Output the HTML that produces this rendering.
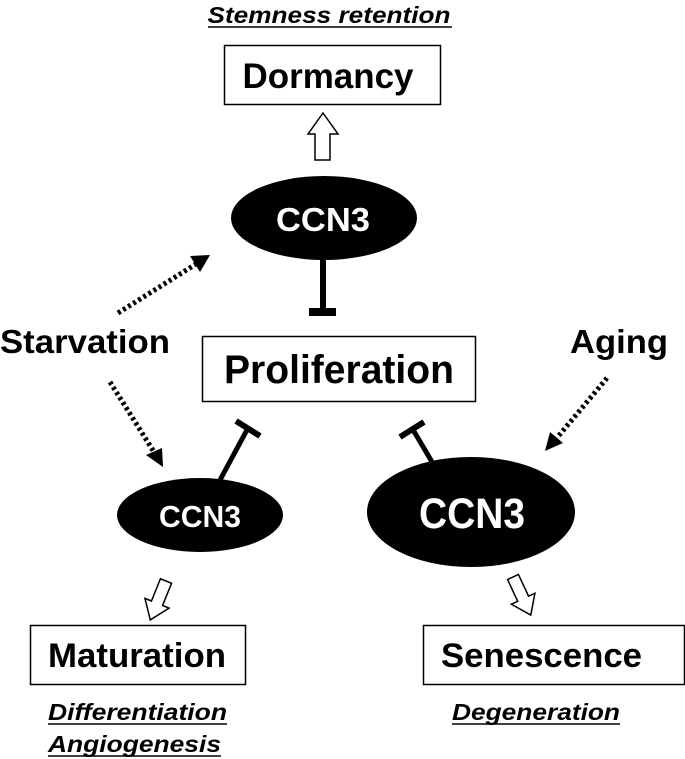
<!DOCTYPE html>
<html><head><style>body{margin:0;background:#fff}svg{display:block}</style></head><body>
<svg width="685" height="759" viewBox="0 0 685 759" xmlns="http://www.w3.org/2000/svg" font-family="Liberation Sans, Arial, sans-serif" font-weight="bold">
<!-- Stemness -->
<text x="329" y="23" font-size="23" font-style="italic" text-anchor="middle" textLength="243" lengthAdjust="spacingAndGlyphs">Stemness retention</text>
<line x1="208" y1="27" x2="452" y2="27" stroke="#000" stroke-width="1.5"/>
<!-- Dormancy -->
<rect x="224.5" y="45.5" width="216" height="59" fill="#fff" stroke="#000" stroke-width="1.5"/>
<text x="328" y="88" font-size="35" text-anchor="middle" textLength="171" lengthAdjust="spacingAndGlyphs">Dormancy</text>
<!-- up hollow arrow -->
<path d="M315,160 L315,134 L308,134 L323,113 L338,134 L330,134 L330,160 Z" fill="#fff" stroke="#000" stroke-width="1.5"/>
<!-- top CCN3 -->
<ellipse cx="324" cy="218" rx="93" ry="42" fill="#000"/>
<text x="323" y="231" font-size="33" fill="#fff" text-anchor="middle" textLength="94" lengthAdjust="spacingAndGlyphs">CCN3</text>
<line x1="323" y1="258" x2="323" y2="312" stroke="#000" stroke-width="6"/>
<rect x="309" y="308" width="27" height="8" fill="#000"/>
<!-- Proliferation -->
<rect x="202.5" y="336.5" width="273" height="65" fill="#fff" stroke="#000" stroke-width="1.5"/>
<text x="339" y="383" font-size="40" text-anchor="middle" textLength="230" lengthAdjust="spacingAndGlyphs">Proliferation</text>
<!-- Starvation / Aging -->
<text x="0" y="353" font-size="33" textLength="170" lengthAdjust="spacingAndGlyphs">Starvation</text>
<text x="570" y="353" font-size="33" textLength="98" lengthAdjust="spacingAndGlyphs">Aging</text>
<!-- dotted arrows -->
<line x1="118" y1="313" x2="196" y2="264" stroke="#000" stroke-width="5" stroke-dasharray="3,3"/>
<path d="M210,255 L190,256 L200,272 Z" fill="#000"/>
<line x1="110" y1="382" x2="154" y2="452" stroke="#000" stroke-width="5" stroke-dasharray="3,3"/>
<path d="M163,467 L146,455 L162,448 Z" fill="#000"/>
<line x1="607" y1="378" x2="556" y2="439" stroke="#000" stroke-width="5" stroke-dasharray="3,3"/>
<path d="M545,451 L550,432 L563,443 Z" fill="#000"/>
<!-- left CCN3 -->
<ellipse cx="200" cy="515" rx="83" ry="37" fill="#000"/>
<text x="200" y="527" font-size="31" fill="#fff" text-anchor="middle" textLength="82" lengthAdjust="spacingAndGlyphs">CCN3</text>
<line x1="220" y1="480" x2="248" y2="428" stroke="#000" stroke-width="5"/>
<line x1="236" y1="421" x2="260" y2="436" stroke="#000" stroke-width="6"/>
<!-- right CCN3 -->
<ellipse cx="471" cy="512" rx="104" ry="55" fill="#000"/>
<text x="472" y="528" font-size="43" fill="#fff" text-anchor="middle" textLength="106" lengthAdjust="spacingAndGlyphs">CCN3</text>
<line x1="432" y1="462" x2="412" y2="428" stroke="#000" stroke-width="5"/>
<line x1="400" y1="437" x2="424" y2="422" stroke="#000" stroke-width="6"/>
<!-- hollow arrows down -->
<g transform="translate(166,581) rotate(22)"><path d="M-6,0 L6,0 L6,24 L13,24 L0,42 L-13,24 L-6,24 Z" fill="#fff" stroke="#000" stroke-width="1.5"/></g>
<g transform="translate(513,577) rotate(-25)"><path d="M-6,0 L6,0 L6,24 L13,24 L0,42 L-13,24 L-6,24 Z" fill="#fff" stroke="#000" stroke-width="1.5"/></g>
<!-- Maturation -->
<rect x="30.5" y="625.5" width="215" height="59" fill="#fff" stroke="#000" stroke-width="1.5"/>
<text x="48" y="667" font-size="34" textLength="178" lengthAdjust="spacingAndGlyphs">Maturation</text>
<!-- Senescence -->
<rect x="423.5" y="625.5" width="261" height="59" fill="#fff" stroke="#000" stroke-width="1.5"/>
<text x="441" y="667" font-size="34" textLength="201" lengthAdjust="spacingAndGlyphs">Senescence</text>
<!-- italic labels -->
<text x="48" y="720" font-size="23" font-style="italic" textLength="179" lengthAdjust="spacingAndGlyphs">Differentiation</text>
<line x1="48" y1="724" x2="227" y2="724" stroke="#000" stroke-width="1.5"/>
<text x="48" y="752" font-size="23" font-style="italic" textLength="173" lengthAdjust="spacingAndGlyphs">Angiogenesis</text>
<line x1="48" y1="756" x2="221" y2="756" stroke="#000" stroke-width="1.5"/>
<text x="452" y="720" font-size="23" font-style="italic" textLength="168" lengthAdjust="spacingAndGlyphs">Degeneration</text>
<line x1="452" y1="724" x2="620" y2="724" stroke="#000" stroke-width="1.5"/>
</svg>
</body></html>
